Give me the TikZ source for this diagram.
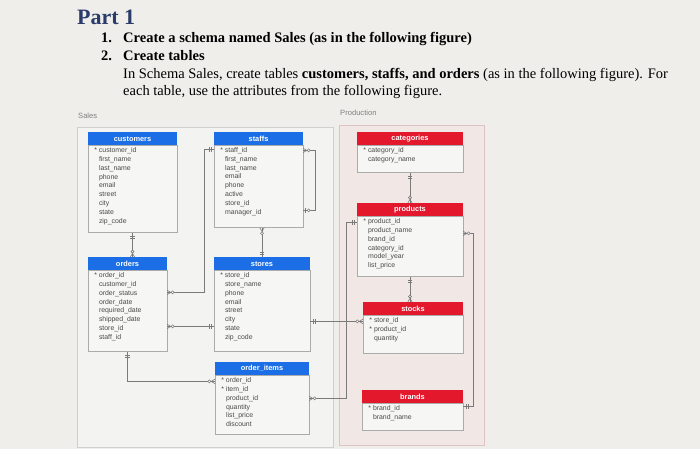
\documentclass[tikz,border=0pt]{standalone}
\usepackage{fontspec}
\setmainfont{Liberation Serif}
\newfontfamily\diagfont{Liberation Sans}
\usetikzlibrary{positioning,decorations.markings}

\definecolor{bgcol}{HTML}{EFEEEB}
\definecolor{salesfill}{HTML}{F3F3F1}
\definecolor{salesline}{HTML}{CFCFCF}
\definecolor{prodfill}{HTML}{F1E8E6}
\definecolor{prodline}{HTML}{DDC3C3}
\definecolor{tblfill}{HTML}{F6F6F4}
\definecolor{tblline}{HTML}{ABABAB}
\definecolor{salesblue}{HTML}{1C6EE6}
\definecolor{prodred}{HTML}{E3182D}
\definecolor{partblue}{HTML}{2B3C6B}
\definecolor{linegray}{HTML}{7A7A7A}
\definecolor{rowtext}{HTML}{4A4A4A}

\tikzset{
  txt/.style={anchor=base west, inner sep=0pt, font=\fontsize{14.5}{16}\selectfont},
  txtb/.style={txt, font=\bfseries\fontsize{14.5}{16}\selectfont},
  frame/.style={anchor=west, inner sep=0pt, text=gray, font=\diagfont\fontsize{7.6}{8}\selectfont},
  hdr/.style={anchor=north, inner sep=0pt, minimum height=13pt, text=white,
    font=\diagfont\bfseries\fontsize{7.4}{8}\selectfont},
  tbody/.style={draw=tblline, fill=tblfill, inner sep=0pt, line width=0.4pt},
  rows/.style={inner sep=0pt, align=left, text=rowtext, font=\diagfont\fontsize{6.9}{8.8}\selectfont},
  conn/.style={draw=linegray, line width=0.6pt},
  mk/.style={draw=linegray, line width=0.6pt},
  onebeg/.style={postaction={decorate,decoration={markings,
    mark=at position 0 with {\draw[mk] (3pt,-2.2pt) -- (3pt,2.2pt) (5pt,-2.2pt) -- (5pt,2.2pt);}}}},
  oneend/.style={postaction={decorate,decoration={markings,
    mark=at position 1 with {\draw[mk] (-3pt,-2.2pt) -- (-3pt,2.2pt) (-5pt,-2.2pt) -- (-5pt,2.2pt);}}}},
  manybeg/.style={postaction={decorate,decoration={markings,
    mark=at position 0 with {\draw[mk] (0,-2.2pt) -- (3.5pt,0) -- (0,2.2pt);
      \draw[mk, fill=white] (5.4pt,0) circle (1.5pt);}}}},
  manyend/.style={postaction={decorate,decoration={markings,
    mark=at position 1 with {\draw[mk] (0,-2.2pt) -- (-3.5pt,0) -- (0,2.2pt);
      \draw[mk, fill=white] (-5.4pt,0) circle (1.5pt);}}}},
  zoneend/.style={postaction={decorate,decoration={markings,
    mark=at position 1 with {\draw[mk] (-2.5pt,-2.2pt) -- (-2.5pt,2.2pt);
      \draw[mk, fill=white] (-5.4pt,0) circle (1.5pt);}}}},
}

\begin{document}
\begin{tikzpicture}[x=1pt, y=-1pt]
\fill[bgcol] (0,0) rectangle (700,449);
\useasboundingbox (0,0) rectangle (700,449);

% heading and task text
\node[txt, font=\bfseries\fontsize{22}{22}\selectfont, text=partblue] (part) at (77,25) {Part 1};
\node[txtb] (n1) at (101,43) {1.};
\node[txtb] (t1) at (123,43) {Create a schema named Sales (as in the following figure)};
\node[txtb] (n2) at (101,61) {2.};
\node[txtb] (t2) at (123,61) {Create tables};
\node[txt] (t3) at (123,79) {In Schema Sales, create tables \textbf{customers, staffs, and orders} (as in the following figure). For};
\node[txt] (t4) at (123,96) {each table, use the attributes from the following figure.};

% schema frames
\node[frame] (sales) at (78,116) {Sales};
\node[frame] (production) at (340,113) {Production};
\draw[salesline, fill=salesfill] (77,127) rectangle (333,447);
\draw[prodline, fill=prodfill] (339,125) rectangle (484,445);

% Sales tables
\node[hdr, fill=salesblue, minimum width=89pt] (cust) at (132.5,132) {customers};
\node[tbody, minimum width=89pt, minimum height=87pt, below=0pt of cust] (cust-b) {};
\node[rows, below right=2pt and 11pt of cust-b.north west] (cust-r)
  {\llap{* }customer\_id\\first\_name\\last\_name\\phone\\email\\street\\city\\state\\zip\_code};

\node[hdr, fill=salesblue, minimum width=89pt] (staff) at (258.5,132) {staffs};
\node[tbody, minimum width=89pt, minimum height=82pt, below=0pt of staff] (staff-b) {};
\node[rows, below right=2pt and 11pt of staff-b.north west] (staff-r)
  {\llap{* }staff\_id\\first\_name\\last\_name\\email\\phone\\active\\store\_id\\manager\_id};

\node[hdr, fill=salesblue, minimum width=79pt] (ord) at (127.5,257) {orders};
\node[tbody, minimum width=79pt, minimum height=81pt, below=0pt of ord] (ord-b) {};
\node[rows, below right=2pt and 11pt of ord-b.north west] (ord-r)
  {\llap{* }order\_id\\customer\_id\\order\_status\\order\_date\\required\_date\\shipped\_date\\store\_id\\staff\_id};

\node[hdr, fill=salesblue, minimum width=96pt] (stor) at (262,257) {stores};
\node[tbody, minimum width=96pt, minimum height=81pt, below=0pt of stor] (stor-b) {};
\node[rows, below right=2pt and 11pt of stor-b.north west] (stor-r)
  {\llap{* }store\_id\\store\_name\\phone\\email\\street\\city\\state\\zip\_code};

\node[hdr, fill=salesblue, minimum width=94pt] (oi) at (262,362) {order\_items};
\node[tbody, minimum width=94pt, minimum height=59pt, below=0pt of oi] (oi-b) {};
\node[rows, below right=2pt and 11pt of oi-b.north west] (oi-r)
  {\llap{* }order\_id\\\llap{* }item\_id\\product\_id\\quantity\\list\_price\\discount};

% Production tables
\node[hdr, fill=prodred, minimum width=106pt] (cat) at (410,132) {categories};
\node[tbody, minimum width=106pt, minimum height=27pt, below=0pt of cat] (cat-b) {};
\node[rows, below right=2pt and 11pt of cat-b.north west] (cat-r)
  {\llap{* }category\_id\\category\_name};

\node[hdr, fill=prodred, minimum width=106pt] (prod) at (410,203) {products};
\node[tbody, minimum width=106pt, minimum height=60pt, below=0pt of prod] (prod-b) {};
\node[rows, below right=2pt and 11pt of prod-b.north west] (prod-r)
  {\llap{* }product\_id\\product\_name\\brand\_id\\category\_id\\model\_year\\list\_price};

\node[hdr, fill=prodred, minimum width=100pt] (stock) at (413,302) {stocks};
\node[tbody, minimum width=100pt, minimum height=38pt, below=0pt of stock] (stock-b) {};
\node[rows, below right=2pt and 11pt of stock-b.north west] (stock-r)
  {\llap{* }store\_id\\\llap{* }product\_id\\quantity};

\node[hdr, fill=prodred, minimum width=101pt] (brand) at (412.5,390) {brands};
\node[tbody, minimum width=101pt, minimum height=27pt, below=0pt of brand] (brand-b) {};
\node[rows, below right=2pt and 11pt of brand-b.north west] (brand-r)
  {\llap{* }brand\_id\\brand\_name};

% relations
\coordinate (s1) at ([yshift=-51pt]stor-b.north east);
\draw[conn, onebeg, manyend] (cust-b.south) -- (cust-b.south |- ord.north);
\draw[conn, manybeg, oneend] (staff-b.south -| stor.north) -- (stor.north);
\draw[conn, manybeg, zoneend] ([yshift=-5pt]staff-b.north east) -- ++(12,0) |- ([yshift=-65pt]staff-b.north east);
\draw[conn, onebeg, manyend] ([yshift=-4pt]staff-b.north west) -- ++(-10,0) |- ([yshift=-22pt]ord-b.north east);
\draw[conn, onebeg, manyend] ([yshift=-56pt]stor-b.north west) -- ([yshift=-56pt]ord-b.north east);
\draw[conn, onebeg, manyend] (s1) -- (s1 -| stock-b.west);
\draw[conn, onebeg, manyend] (ord-b.south) |- ([yshift=-6pt]oi-b.north west);
\draw[conn, manybeg, oneend] ([yshift=-23pt]oi-b.north east) -- ++(37,0) |- ([yshift=-6pt]prod-b.north west);
\draw[conn, onebeg, manyend] (cat-b.south) -- (prod.north);
\draw[conn, onebeg, manyend] (prod-b.south) -- (prod-b.south |- stock.north);
\draw[conn, manybeg, oneend] ([yshift=-17pt]prod-b.north east) -- ++(10,0) |- ([yshift=-3pt]brand-b.north east);
\end{tikzpicture}
\end{document}
